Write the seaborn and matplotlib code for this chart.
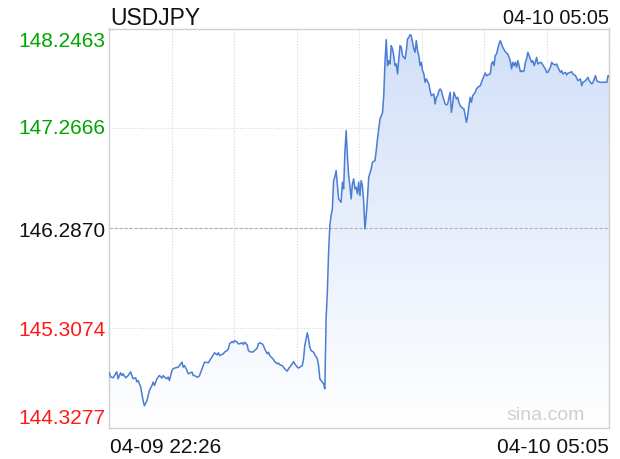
import numpy as np
import pandas as pd
import matplotlib
matplotlib.use("Agg")
import matplotlib.pyplot as plt
from matplotlib.colors import LinearSegmentedColormap
from matplotlib.patches import PathPatch
import matplotlib.transforms as mtransforms
import seaborn as sns

# ---------------- data ----------------
symbol = "USDJPY"
start_label = "04-09 22:26"
end_label = "04-10 05:05"
total_minutes = 399

minutes = [
    0, 1, 3, 5, 6, 7, 9, 10, 11, 13, 14, 15, 17, 18, 19, 21, 22, 23, 25, 26, 27, 28, 30, 31, 32,
    34, 35, 36, 38, 39, 40, 42, 43, 44, 46, 47, 48, 50, 51, 52, 55, 58, 59, 60, 62, 63, 66, 67, 68,
    70, 71, 72, 74, 75, 76, 79, 80, 83, 84, 86, 87, 88, 91, 92, 94, 95, 96, 98, 99, 100, 102, 103,
    104, 106, 107, 108, 110, 111, 112, 114, 115, 116, 118, 119, 120, 122, 123, 124, 126, 127, 128,
    130, 131, 132, 134, 135, 136, 138, 139, 140, 142, 143, 144, 146, 147, 148, 150, 151, 152, 154,
    155, 156, 158, 159, 160, 161, 163, 164, 166, 167, 168, 169, 171, 172, 173, 174, 175, 176, 177,
    178, 179, 180, 181, 183, 184, 185, 186, 187, 188, 189, 190, 191, 192, 193, 194, 195, 196, 197,
    198, 199, 200, 201, 202, 203, 204, 205, 206, 207, 209, 210, 212, 213, 214, 215, 216, 218, 219,
    220, 221, 222, 223, 224, 225, 226, 227, 228, 229, 230, 231, 232, 233, 234, 235, 236, 237, 238,
    239, 240, 241, 242, 243, 244, 245, 246, 247, 248, 249, 250, 251, 252, 253, 255, 256, 257, 259,
    260, 261, 262, 263, 264, 265, 266, 268, 269, 270, 272, 273, 274, 275, 276, 277, 278, 279, 280,
    282, 283, 284, 285, 286, 287, 288, 289, 290, 292, 293, 294, 296, 297, 298, 300, 301, 302, 304,
    305, 306, 307, 308, 309, 310, 311, 312, 313, 314, 316, 317, 318, 320, 321, 322, 323, 324, 325,
    326, 327, 328, 329, 330, 331, 332, 333, 334, 336, 337, 338, 339, 340, 341, 342, 344, 345, 346,
    348, 349, 350, 352, 353, 354, 356, 357, 358, 360, 361, 362, 364, 365, 366, 368, 369, 370, 372,
    373, 374, 376, 377, 378, 380, 381, 382, 383, 384, 385, 386, 388, 389, 390, 392, 394, 397, 398,
    399,
]

prices = [
    144.872, 144.832, 144.823, 144.862, 144.881, 144.813, 144.872, 144.845, 144.862, 144.823,
    144.832, 144.845, 144.881, 144.845, 144.813, 144.823, 144.783, 144.796, 144.735, 144.666,
    144.597, 144.548, 144.597, 144.649, 144.698, 144.747, 144.781, 144.747, 144.813, 144.830,
    144.845, 144.820, 144.845, 144.830, 144.813, 144.830, 144.796, 144.894, 144.911, 144.918,
    144.927, 144.976, 144.927, 144.943, 144.894, 144.862, 144.879, 144.845, 144.845, 144.830,
    144.830, 144.845, 144.911, 144.943, 144.976, 144.970, 144.989, 145.048, 145.068, 145.048,
    145.068, 145.041, 145.058, 145.074, 145.090, 145.107, 145.156, 145.178, 145.166, 145.188,
    145.172, 145.156, 145.156, 145.166, 145.149, 145.172, 145.146, 145.090, 145.080, 145.074,
    145.080, 145.090, 145.114, 145.156, 145.166, 145.156, 145.139, 145.107, 145.058, 145.074,
    145.041, 145.016, 145.002, 144.982, 144.960, 144.967, 144.950, 144.943, 144.927, 144.911,
    144.888, 144.911, 144.927, 144.960, 144.982, 144.960, 144.927, 144.918, 144.927, 144.943,
    145.009, 145.139, 145.263, 145.205, 145.123, 145.090, 145.074, 145.048, 145.009, 144.943,
    144.813, 144.796, 144.764, 144.715, 145.401, 145.665, 146.057, 146.315, 146.413, 146.478,
    146.755, 146.792, 146.853, 146.576, 146.559, 146.544, 146.740, 146.674, 147.034, 147.245,
    147.000, 146.804, 146.706, 146.576, 146.723, 146.772, 146.674, 146.691, 146.625, 146.740,
    146.608, 146.755, 146.706, 146.544, 146.282, 146.413, 146.576, 146.789, 146.870, 146.936,
    146.951, 147.049, 147.164, 147.262, 147.360, 147.419, 147.585, 147.918, 148.137, 147.882,
    147.931, 147.899, 148.078, 148.046, 147.980, 147.882, 147.899, 147.801, 147.948, 148.078,
    148.062, 147.980, 147.964, 147.948, 148.029, 148.144, 148.160, 148.186, 148.176, 148.111,
    148.046, 148.013, 148.127, 148.029, 147.980, 147.882, 147.915, 147.833, 147.801, 147.719,
    147.752, 147.703, 147.637, 147.588, 147.605, 147.507, 147.572, 147.588, 147.637, 147.654,
    147.637, 147.588, 147.507, 147.497, 147.507, 147.621, 147.425, 147.507, 147.621, 147.588,
    147.556, 147.572, 147.523, 147.490, 147.465, 147.458, 147.392, 147.327, 147.392, 147.490,
    147.572, 147.523, 147.588, 147.621, 147.654, 147.670, 147.686, 147.719, 147.752, 147.810,
    147.784, 147.791, 147.801, 147.899, 147.921, 147.882, 147.980, 147.997, 148.046, 148.095,
    148.127, 148.095, 148.062, 148.019, 148.006, 147.997, 147.931, 147.850, 147.915, 147.882,
    147.915, 147.866, 147.931, 147.882, 147.823, 147.833, 147.823, 147.833, 147.915, 147.948,
    148.013, 147.948, 147.915, 147.931, 147.882, 147.915, 147.964, 147.899, 147.915, 147.908,
    147.889, 147.850, 147.817, 147.817, 147.866, 147.915, 147.899, 147.889, 147.899, 147.866,
    147.817, 147.833, 147.801, 147.817, 147.791, 147.808, 147.817, 147.823, 147.801, 147.784,
    147.759, 147.735, 147.752, 147.686, 147.719, 147.735, 147.752, 147.768, 147.735, 147.719,
    147.703, 147.719, 147.784, 147.735, 147.725, 147.719, 147.719, 147.719, 147.784, 147.778,
]

ytick_values = [148.2463, 147.2666, 146.2870, 145.3074, 144.3277]
ytick_labels = ["148.2463", "147.2666", "146.2870", "145.3074", "144.3277"]
ytick_colors = ["#00a600", "#00a600", "#111111", "#ff1a1a", "#ff1a1a"]
prev_close = 146.2870

# ---------------- style ----------------
sns.set_style("white")
plt.rcParams["font.family"] = ["Liberation Sans", "DejaVu Sans"]

W, H = 620, 460
fig = plt.figure(figsize=(W / 100, H / 100), dpi=100)
left, right, top, bottom = 109.3, 609.3, 29.5, 429.3
ax = fig.add_axes([left / W, 1 - bottom / H, (right - left) / W, (bottom - top) / H])

df = pd.DataFrame({"minute": minutes, "price": prices})
ymin, ymax = ytick_values[-1], ytick_values[0]

# gradient fill under the line
poly = ax.fill_between(df["minute"], df["price"], ymin, color="none", lw=0)
patch = PathPatch(poly.get_paths()[0], transform=ax.transData, facecolor="none", edgecolor="none")
ax.add_patch(patch)
cmap = LinearSegmentedColormap.from_list("g", ["#ffffff", "#d0dff8"])
grad = np.linspace(0, 1, 256).reshape(-1, 1)
im = ax.imshow(grad, extent=[0, total_minutes, ymin, ymax], origin="lower",
               aspect="auto", cmap=cmap, zorder=1, interpolation="bilinear")
im.set_clip_path(patch)

sns.lineplot(data=df, x="minute", y="price", ax=ax, color="#4a7dd3", lw=1.1,
             estimator=None, zorder=3)

ax.set_xlim(0, total_minutes)
ax.set_ylim(ymin, ymax)
ax.set_xlabel("")
ax.set_ylabel("")
ax.set_xticks(np.linspace(0, total_minutes, 9))
ax.set_yticks(ytick_values)
ax.tick_params(length=0, labelleft=False, labelbottom=False)
ax.grid(True, color="#d8d8d8", lw=0.8, linestyle=(0, (1, 1.5)), zorder=0)
ax.axhline(prev_close, color="#b0b0b0", lw=0.8, linestyle=(0, (3, 1.5)), zorder=2)
for s in ax.spines.values():
    s.set_color("#d0d0d0")
    s.set_linewidth(1.0)

# y labels with pixel offsets (baseline placement)
offsets_px = [-17.2, -4.2, -7.4, -6.3, 5.3]
for v, lab, col, off in zip(ytick_values, ytick_labels, ytick_colors, offsets_px):
    tr = mtransforms.offset_copy(ax.get_yaxis_transform(), fig=fig, x=-4 * 0.72, y=off * 0.72, units="points")
    ax.text(0, v, lab, transform=tr, ha="right", va="baseline", fontsize=15, color=col, clip_on=False)

# title & time labels
fig.text(110.5 / W, 1 - 25 / H, symbol, ha="left", va="baseline", fontsize=16.5, color="#111111")
fig.text(609.3 / W, 1 - 24 / H, end_label, ha="right", va="baseline", fontsize=14.3, color="#111111")
fig.text(110.5 / W, 1 - 453 / H, start_label, ha="left", va="baseline", fontsize=15, color="#111111")
fig.text(609.3 / W, 1 - 453 / H, end_label, ha="right", va="baseline", fontsize=15, color="#111111")
fig.text(585 / W, 1 - 420 / H, "sina.com", ha="right", va="baseline", fontsize=14, color="#cfcfcf")

fig.savefig("out.png", dpi=100)
